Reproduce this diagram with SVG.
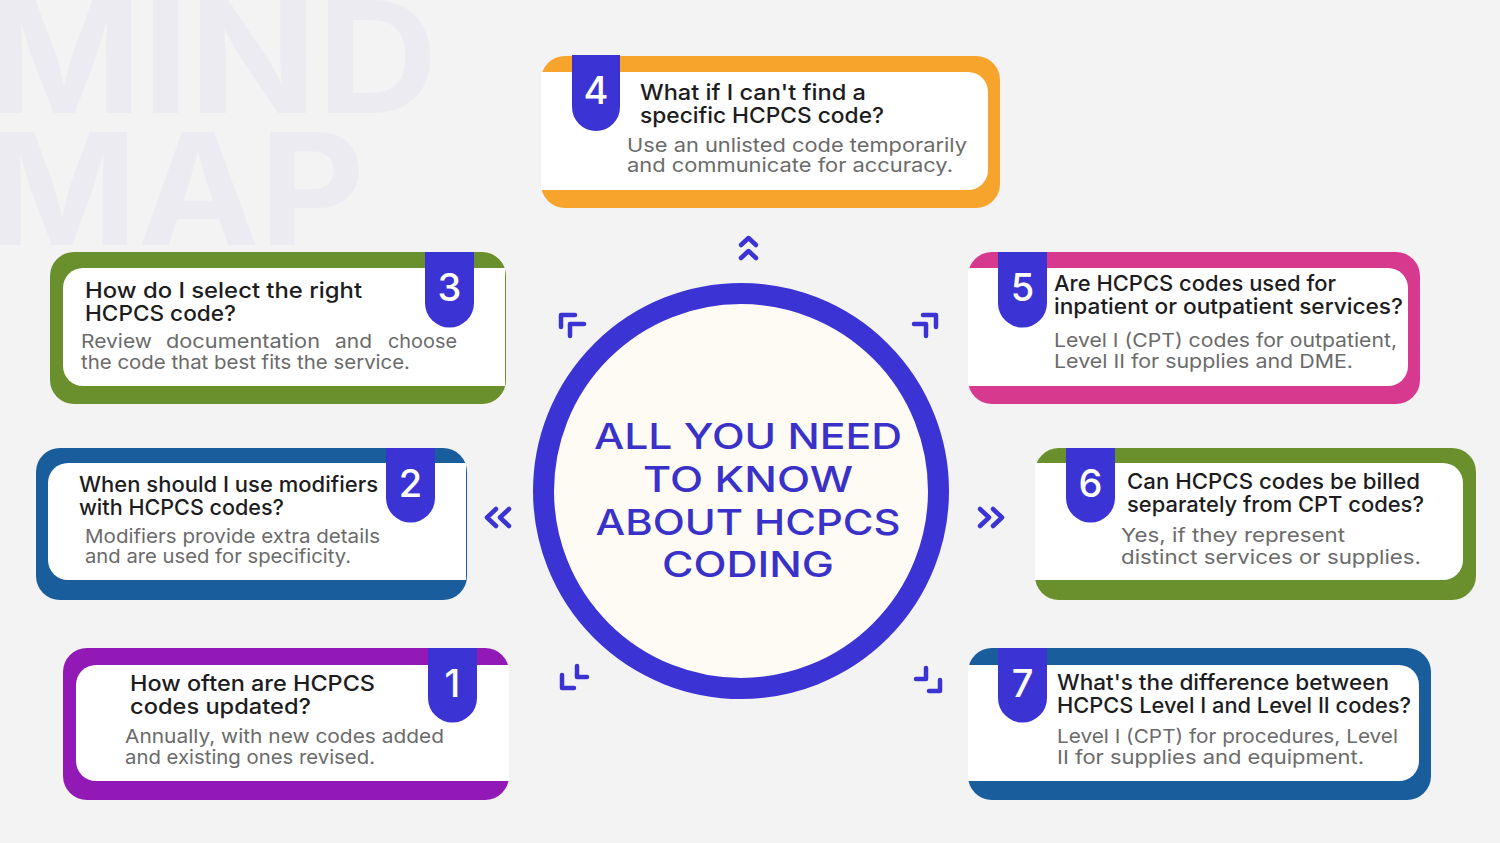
<svg xmlns="http://www.w3.org/2000/svg" width="1500" height="843" viewBox="0 0 1500 843">
<defs>
<style>
.bg{fill:#f3f3f4}
.wm{font-family:Inter,"Liberation Sans",sans-serif;font-weight:700;font-size:156px;fill:#ebebf1}
.panel{fill:#ffffff}
.badge{fill:#3c33d4}
.num{font-family:Inter,"Liberation Sans",sans-serif;font-weight:500;font-size:38px;fill:#ffffff;text-anchor:middle}
.title{font-family:Inter,"Liberation Sans",sans-serif;font-weight:500;font-size:21.5px;fill:#1d1d1f}
.body{font-family:Inter,"Liberation Sans",sans-serif;font-weight:400;font-size:19px;fill:#6b6b6b}
.center{font-family:Inter,"Liberation Sans",sans-serif;font-weight:500;font-size:35.5px;fill:#3a32c8;text-anchor:middle}
.con{fill:none;stroke:#3c33d4;stroke-width:4.5;stroke-linecap:round;stroke-linejoin:round}
.orange{fill:#f6a42c}.green{fill:#6a8f2d}.pink{fill:#d6398d}.blue{fill:#1a5d9c}.purple{fill:#9219b6}
</style>
</defs>
<rect class="bg" x="0" y="0" width="1500" height="843"/>
<g id="watermark">
<text class="wm" x="-14" y="113" textLength="452" lengthAdjust="spacingAndGlyphs">MIND</text>
<text class="wm" x="-14" y="245" textLength="379" lengthAdjust="spacingAndGlyphs">MAP</text>
</g>

<g id="connectors">
<path class="con" d="M741,245 L748.5,238 L756,245"/>
<path class="con" d="M741,258 L748.5,251 L756,258"/>
<path class="con" d="M496,509 L487,517.5 L496,526"/>
<path class="con" d="M509,509 L500,517.5 L509,526"/>
<path class="con" d="M980,509 L989,517.5 L980,526"/>
<path class="con" d="M993,509 L1002,517.5 L993,526"/>
<path class="con" d="M561,327 V315 H575"/>
<path class="con" d="M570,336 V324 H584"/>
<path class="con" d="M923,315 H936 V327"/>
<path class="con" d="M914,324 H926 V336"/>
<path class="con" d="M577,666 V677 H587"/>
<path class="con" d="M562,675 V688 H574"/>
<path class="con" d="M916,679 H926 V668"/>
<path class="con" d="M929,691 H940 V680"/>
</g>

<g id="center">
<circle cx="741" cy="491" r="197.5" fill="#fdfbf4" stroke="#3c33d4" stroke-width="21"/>
<text class="center" x="748" y="449" textLength="308" lengthAdjust="spacingAndGlyphs">ALL YOU NEED</text>
<text class="center" x="748" y="492" textLength="210" lengthAdjust="spacingAndGlyphs">TO KNOW</text>
<text class="center" x="748" y="535" textLength="305" lengthAdjust="spacingAndGlyphs">ABOUT HCPCS</text>
<text class="center" x="748" y="577" textLength="172" lengthAdjust="spacingAndGlyphs">CODING</text>
</g>

<g id="node-4">
<rect class="orange" x="541" y="56" width="459" height="152" rx="24"/>
<path class="panel" d="M541,72 H968 A20,20 0 0 1 988,92 V170 A20,20 0 0 1 968,190 H541 Z"/>
<path class="badge" d="M572,55 H620 V107 A24,24 0 0 1 572,107 Z"/>
<text class="num" x="596" y="104">4</text>
<text class="title" x="640" y="100" textLength="226" lengthAdjust="spacingAndGlyphs">What if I can't find a</text>
<text class="title" x="640" y="123" textLength="244" lengthAdjust="spacingAndGlyphs">specific HCPCS code?</text>
<text class="body" x="627" y="152" textLength="340" lengthAdjust="spacingAndGlyphs">Use an unlisted code temporarily</text>
<text class="body" x="627" y="172" textLength="326" lengthAdjust="spacingAndGlyphs">and communicate for accuracy.</text>
</g>

<g id="node-3">
<rect class="green" x="50" y="252" width="456" height="152" rx="24"/>
<path class="panel" d="M505,268 H83 A20,20 0 0 0 63,288 V366 A20,20 0 0 0 83,386 H505 Z"/>
<path class="badge" d="M425,252 H474 V303 A24.5,24.5 0 0 1 425,303 Z"/>
<text class="num" x="449.5" y="301">3</text>
<text class="title" x="85" y="298" textLength="277" lengthAdjust="spacingAndGlyphs">How do I select the right</text>
<text class="title" x="85" y="321" textLength="151" lengthAdjust="spacingAndGlyphs">HCPCS code?</text>
<text class="body" y="348"><tspan x="81" textLength="71" lengthAdjust="spacingAndGlyphs">Review</tspan><tspan x="166" textLength="154" lengthAdjust="spacingAndGlyphs">documentation</tspan><tspan x="335" textLength="37" lengthAdjust="spacingAndGlyphs">and</tspan><tspan x="388" textLength="69" lengthAdjust="spacingAndGlyphs">choose</tspan></text>
<text class="body" x="81" y="369" textLength="329" lengthAdjust="spacingAndGlyphs">the code that best fits the service.</text>
</g>

<g id="node-5">
<rect class="pink" x="968" y="252" width="452" height="152" rx="24"/>
<path class="panel" d="M968,268 H1388 A20,20 0 0 1 1408,288 V366 A20,20 0 0 1 1388,386 H968 Z"/>
<path class="badge" d="M998,252 H1047 V303 A24.5,24.5 0 0 1 998,303 Z"/>
<text class="num" x="1022.5" y="301">5</text>
<text class="title" x="1054" y="291" textLength="282" lengthAdjust="spacingAndGlyphs">Are HCPCS codes used for</text>
<text class="title" x="1054" y="314" textLength="349" lengthAdjust="spacingAndGlyphs">inpatient or outpatient services?</text>
<text class="body" x="1054" y="347" textLength="343" lengthAdjust="spacingAndGlyphs">Level I (CPT) codes for outpatient,</text>
<text class="body" x="1054" y="368" textLength="299" lengthAdjust="spacingAndGlyphs">Level II for supplies and DME.</text>
</g>

<g id="node-2">
<rect class="blue" x="36" y="448" width="431" height="152" rx="24"/>
<path class="panel" d="M466,463 H68 A20,20 0 0 0 48,483 V560 A20,20 0 0 0 68,580 H466 Z"/>
<path class="badge" d="M386,448 H435 V498 A24.5,24.5 0 0 1 386,498 Z"/>
<text class="num" x="410.5" y="497">2</text>
<text class="title" x="79" y="492" textLength="299" lengthAdjust="spacingAndGlyphs">When should I use modifiers</text>
<text class="title" x="79" y="515" textLength="205" lengthAdjust="spacingAndGlyphs">with HCPCS codes?</text>
<text class="body" x="85" y="543" textLength="295" lengthAdjust="spacingAndGlyphs">Modifiers provide extra details</text>
<text class="body" x="85" y="563" textLength="266" lengthAdjust="spacingAndGlyphs">and are used for specificity.</text>
</g>

<g id="node-6">
<rect class="green" x="1035" y="448" width="441" height="152" rx="24"/>
<path class="panel" d="M1035,463 H1443 A20,20 0 0 1 1463,483 V560 A20,20 0 0 1 1443,580 H1035 Z"/>
<path class="badge" d="M1066,448 H1115 V498 A24.5,24.5 0 0 1 1066,498 Z"/>
<text class="num" x="1090.5" y="497">6</text>
<text class="title" x="1127" y="489" textLength="293" lengthAdjust="spacingAndGlyphs">Can HCPCS codes be billed</text>
<text class="title" x="1127" y="512" textLength="297" lengthAdjust="spacingAndGlyphs">separately from CPT codes?</text>
<text class="body" x="1121" y="542" textLength="224" lengthAdjust="spacingAndGlyphs">Yes, if they represent</text>
<text class="body" x="1121" y="564" textLength="300" lengthAdjust="spacingAndGlyphs">distinct services or supplies.</text>
</g>

<g id="node-1">
<rect class="purple" x="63" y="648" width="446" height="152" rx="24"/>
<path class="panel" d="M509,665 H96 A20,20 0 0 0 76,685 V761 A20,20 0 0 0 96,781 H509 Z"/>
<path class="badge" d="M428,648 H477 V698 A24.5,24.5 0 0 1 428,698 Z"/>
<text class="num" x="452.5" y="697">1</text>
<text class="title" x="130" y="691" textLength="245" lengthAdjust="spacingAndGlyphs">How often are HCPCS</text>
<text class="title" x="130" y="714" textLength="181" lengthAdjust="spacingAndGlyphs">codes updated?</text>
<text class="body" x="125" y="743" textLength="319" lengthAdjust="spacingAndGlyphs">Annually, with new codes added</text>
<text class="body" x="125" y="764" textLength="250" lengthAdjust="spacingAndGlyphs">and existing ones revised.</text>
</g>

<g id="node-7">
<rect class="blue" x="968" y="648" width="463" height="152" rx="24"/>
<path class="panel" d="M968,665 H1399 A20,20 0 0 1 1419,685 V761 A20,20 0 0 1 1399,781 H968 Z"/>
<path class="badge" d="M998,648 H1047 V698 A24.5,24.5 0 0 1 998,698 Z"/>
<text class="num" x="1022.5" y="697">7</text>
<text class="title" x="1057" y="690" textLength="332" lengthAdjust="spacingAndGlyphs">What's the difference between</text>
<text class="title" x="1057" y="713" textLength="354" lengthAdjust="spacingAndGlyphs">HCPCS Level I and Level II codes?</text>
<text class="body" x="1057" y="743" textLength="341" lengthAdjust="spacingAndGlyphs">Level I (CPT) for procedures, Level</text>
<text class="body" x="1057" y="764" textLength="307" lengthAdjust="spacingAndGlyphs">II for supplies and equipment.</text>
</g>
</svg>
